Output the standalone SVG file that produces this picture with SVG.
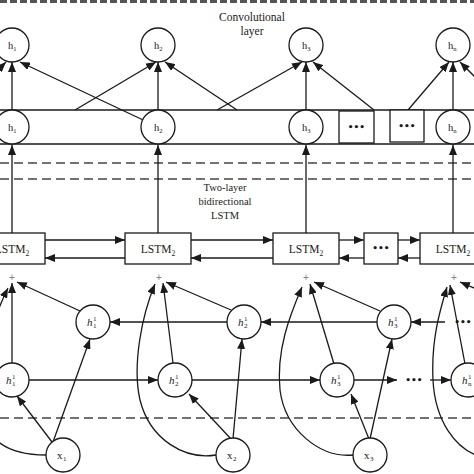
<svg xmlns="http://www.w3.org/2000/svg" width="474" height="474" viewBox="0 0 474 474">
<defs>
<marker id="ah" markerUnits="userSpaceOnUse" markerWidth="10" markerHeight="8" refX="10" refY="4" orient="auto">
<path d="M0,0 L10,4 L0,8 z" fill="#1a1a1a"/>
</marker>
<style>
.ln{stroke:#1a1a1a;stroke-width:1.3;fill:none}
.ar{stroke:#1a1a1a;stroke-width:1.3;fill:none;marker-end:url(#ah)}
.dash{stroke:#444;stroke-width:1.3;stroke-dasharray:9 5;fill:none}
.nd{fill:#fff;stroke:#1a1a1a;stroke-width:1.3}
.t{font-family:"Liberation Serif","Times New Roman",serif;fill:#1a1a1a}
.hl{font-family:"Liberation Serif","Times New Roman",serif;font-size:10.5px;fill:#1a1a1a}
.sb{font-size:6.5px}
.hi{font-family:"Liberation Serif","Times New Roman",serif;font-size:11px;font-style:italic;fill:#1a1a1a}
.ss{font-size:7px;font-style:normal}
.plus{font-family:"Liberation Sans",Arial,sans-serif;font-size:10px;fill:#808080;text-anchor:middle}
.dots{font-family:"DejaVu Sans",sans-serif;font-size:9px;font-weight:bold;fill:#1a1a1a;text-anchor:middle}
.lbl{font-family:"Liberation Serif","Times New Roman",serif;fill:#1a1a1a;text-anchor:middle}
</style>
</defs>
<rect width="474" height="474" fill="#fff"/>

<!-- dashed separators -->
<line x1="0" y1="1.5" x2="474" y2="1.5" stroke="#555" stroke-width="3" stroke-dasharray="7 3"/>
<line class="dash" x1="0" y1="163" x2="474" y2="163"/>
<line class="dash" x1="0" y1="179" x2="474" y2="179"/>
<line class="dash" x1="0" y1="418" x2="474" y2="418"/>

<!-- band lines -->
<line class="ln" x1="0" y1="110" x2="474" y2="110"/>
<line class="ln" x1="0" y1="144" x2="474" y2="144"/>

<text class="lbl" font-size="11.5" x="252" y="21">Convolutional</text>
<text class="lbl" font-size="11.5" x="252" y="35">layer</text>
<text class="lbl" font-size="10.5" x="225" y="191">Two-layer</text>
<text class="lbl" font-size="10.5" x="225" y="205">bidirectional</text>
<text class="lbl" font-size="10.5" x="225" y="219">LSTM</text>

<g id="connectors">
<!-- band to conv layer -->
<line class="ar" x1="12" y1="127" x2="12" y2="62"/>
<line class="ar" x1="158" y1="127" x2="20" y2="62"/>
<line class="ar" x1="75" y1="110" x2="156" y2="62"/>
<line class="ar" x1="158" y1="127" x2="158" y2="62"/>
<line class="ar" x1="237" y1="110" x2="165" y2="62"/>
<line class="ar" x1="217" y1="110" x2="302" y2="62"/>
<line class="ar" x1="306" y1="127" x2="306" y2="62"/>
<line class="ar" x1="374" y1="110" x2="313" y2="62"/>
<line class="ar" x1="408" y1="110" x2="449" y2="62"/>
<line class="ar" x1="453" y1="127" x2="453" y2="62"/>
<line class="ar" x1="488" y1="90" x2="460" y2="62"/>
<line class="ar" x1="-16" y1="84" x2="6" y2="62"/>
<!-- LSTM to band -->
<line class="ar" x1="12" y1="233" x2="12" y2="145"/>
<line class="ar" x1="158" y1="233" x2="158" y2="145"/>
<line class="ar" x1="306" y1="233" x2="306" y2="145"/>
<line class="ar" x1="453" y1="233" x2="453" y2="145"/>
<!-- LSTM horizontal -->
<line class="ar" x1="45" y1="240" x2="125" y2="240"/>
<line class="ar" x1="125" y1="258" x2="45" y2="258"/>
<line class="ar" x1="191" y1="240" x2="273" y2="240"/>
<line class="ar" x1="273" y1="258" x2="191" y2="258"/>
<line class="ar" x1="339" y1="240" x2="364" y2="240"/>
<line class="ar" x1="364" y1="258" x2="339" y2="258"/>
<line class="ar" x1="398" y1="240" x2="420" y2="240"/>
<line class="ar" x1="420" y1="258" x2="398" y2="258"/>
<!-- to plus nodes -->
<line class="ar" x1="12" y1="363" x2="12" y2="283"/>
<line class="ar" x1="80" y1="311" x2="17" y2="282"/>
<path class="ar" d="M46,455 C 20,455 -10,448 -18,415 C -26,380 -8,320 8,288"/>
<line class="ar" x1="173" y1="363" x2="163" y2="283"/>
<line class="ar" x1="231" y1="310" x2="166" y2="282"/>
<path class="ar" d="M216,455 C 185,460 150,440 140,400 C 132,365 142,315 155,284"/>
<line class="ar" x1="334" y1="364" x2="310" y2="284"/>
<line class="ar" x1="380" y1="311" x2="314" y2="282"/>
<path class="ar" d="M353,455 C 320,458 285,430 280,390 C 276,350 290,315 302,287"/>
<line class="ar" x1="465" y1="364" x2="450" y2="285"/>
<line class="ar" x1="495" y1="297" x2="460" y2="282"/>
<path class="ar" d="M482,457 C 455,450 435,420 433,380 C 431,340 440,310 447,287"/>
<!-- forward chain -->
<line class="ar" x1="29" y1="380" x2="158" y2="380"/>
<line class="ar" x1="192" y1="380" x2="320" y2="380"/>
<line class="ar" x1="354" y1="380" x2="397" y2="380"/>
<line class="ar" x1="430" y1="380" x2="451" y2="380"/>
<!-- backward chain -->
<line class="ar" x1="227" y1="322" x2="110" y2="322"/>
<line class="ar" x1="377" y1="322" x2="261" y2="322"/>
<line class="ar" x1="445" y1="322" x2="411" y2="322"/>
<!-- inputs -->
<line class="ar" x1="52" y1="442" x2="17" y2="396"/>
<line class="ar" x1="53" y1="442" x2="90" y2="339"/>
<line class="ar" x1="231" y1="439" x2="189" y2="394"/>
<line class="ar" x1="233" y1="439" x2="242" y2="339"/>
<line class="ar" x1="369" y1="439" x2="351" y2="394"/>
<line class="ar" x1="370" y1="439" x2="392" y2="339"/>
</g>

<!-- conv layer nodes -->
<g id="c1"><circle class="nd" cx="12" cy="45" r="17"/><text class="hl" x="8" y="49">h<tspan class="sb" dy="2">1</tspan></text></g>
<g id="c2"><circle class="nd" cx="158" cy="45" r="17"/><text class="hl" x="154" y="49">h<tspan class="sb" dy="2">2</tspan></text></g>
<g id="c3"><circle class="nd" cx="306" cy="45" r="17"/><text class="hl" x="302" y="49">h<tspan class="sb" dy="2">3</tspan></text></g>
<g id="cn"><circle class="nd" cx="453" cy="45" r="17"/><text class="hl" x="448" y="49">h<tspan class="sb" dy="2">n</tspan></text></g>

<!-- band nodes -->
<g id="b1"><circle class="nd" cx="12" cy="127" r="17"/><text class="hl" x="8" y="131">h<tspan class="sb" dy="2">1</tspan></text></g>
<g id="b2"><circle class="nd" cx="158" cy="127" r="17"/><text class="hl" x="154" y="131">h<tspan class="sb" dy="2">2</tspan></text></g>
<g id="b3"><circle class="nd" cx="306" cy="127" r="17"/><text class="hl" x="302" y="131">h<tspan class="sb" dy="2">3</tspan></text></g>
<g id="bd1"><rect class="nd" x="339" y="111" width="35" height="32"/><text class="dots" x="356.5" y="130">•••</text></g>
<g id="bd2"><rect class="nd" x="390" y="110" width="34" height="32"/><text class="dots" x="407" y="129">•••</text></g>
<g id="bn"><circle class="nd" cx="453" cy="127" r="17"/><text class="hl" x="448" y="131">h<tspan class="sb" dy="2">n</tspan></text></g>

<!-- LSTM boxes -->
<g id="l1"><rect class="nd" x="-21" y="233" width="66" height="31"/><text class="lbl" font-size="11.5" x="12" y="253">LSTM<tspan font-size="7.5" dy="2.5">2</tspan></text></g>
<g id="l2"><rect class="nd" x="125" y="233" width="66" height="31"/><text class="lbl" font-size="11.5" x="158" y="253">LSTM<tspan font-size="7.5" dy="2.5">2</tspan></text></g>
<g id="l3"><rect class="nd" x="273" y="233" width="66" height="31"/><text class="lbl" font-size="11.5" x="306" y="253">LSTM<tspan font-size="7.5" dy="2.5">2</tspan></text></g>
<g id="ld"><rect class="nd" x="364" y="233" width="34" height="31"/><text class="dots" x="381" y="251">•••</text></g>
<g id="l4"><rect class="nd" x="420" y="233" width="66" height="31"/><text class="lbl" font-size="11.5" x="453" y="253">LSTM<tspan font-size="7.5" dy="2.5">2</tspan></text></g>

<!-- plus nodes -->
<g id="p1"><text class="plus" x="12" y="281">+</text></g>
<g id="p2"><text class="plus" x="159" y="281">+</text></g>
<g id="p3"><text class="plus" x="306" y="281">+</text></g>
<g id="pn"><text class="plus" x="454" y="281">+</text></g>

<!-- backward layer-1 nodes -->
<g id="u1"><circle class="nd" cx="93" cy="322" r="17"/><text class="hi"><tspan x="87" y="326">h</tspan><tspan class="ss" x="93" y="321">1</tspan><tspan class="ss" x="93" y="328">1</tspan></text></g>
<g id="u2"><circle class="nd" cx="244" cy="322" r="17"/><text class="hi"><tspan x="238" y="326">h</tspan><tspan class="ss" x="244" y="321">1</tspan><tspan class="ss" x="244" y="328">2</tspan></text></g>
<g id="u3"><circle class="nd" cx="394" cy="322" r="17"/><text class="hi"><tspan x="388" y="326">h</tspan><tspan class="ss" x="394" y="321">1</tspan><tspan class="ss" x="394" y="328">3</tspan></text></g>
<g id="udots"><text class="dots" x="463" y="325">•••</text></g>

<!-- forward layer-1 nodes -->
<g id="f1"><circle class="nd" cx="12" cy="380" r="17"/><text class="hi"><tspan x="6" y="384">h</tspan><tspan class="ss" x="12" y="379">1</tspan><tspan class="ss" x="12" y="386">1</tspan></text></g>
<g id="f2"><circle class="nd" cx="175" cy="380" r="17"/><text class="hi"><tspan x="169" y="384">h</tspan><tspan class="ss" x="175" y="379">1</tspan><tspan class="ss" x="175" y="386">2</tspan></text></g>
<g id="f3"><circle class="nd" cx="337" cy="380" r="17"/><text class="hi"><tspan x="331" y="384">h</tspan><tspan class="ss" x="337" y="379">1</tspan><tspan class="ss" x="337" y="386">3</tspan></text></g>
<g id="fdots"><text class="dots" x="414" y="383">•••</text></g>
<g id="fn"><circle class="nd" cx="468" cy="380" r="17"/><text class="hi"><tspan x="462" y="384">h</tspan><tspan class="ss" x="468" y="379">1</tspan><tspan class="ss" x="468" y="386">n</tspan></text></g>

<!-- inputs -->
<g id="x1"><circle class="nd" cx="63" cy="455" r="17"/><text class="t" font-size="11"><tspan x="57" y="459">x</tspan><tspan font-size="7" x="63" y="461">1</tspan></text></g>
<g id="x2"><circle class="nd" cx="233" cy="455" r="17"/><text class="t" font-size="11"><tspan x="227" y="459">x</tspan><tspan font-size="7" x="233" y="461">2</tspan></text></g>
<g id="x3"><circle class="nd" cx="370" cy="455" r="17"/><text class="t" font-size="11"><tspan x="364" y="459">x</tspan><tspan font-size="7" x="370" y="461">3</tspan></text></g>
</svg>
